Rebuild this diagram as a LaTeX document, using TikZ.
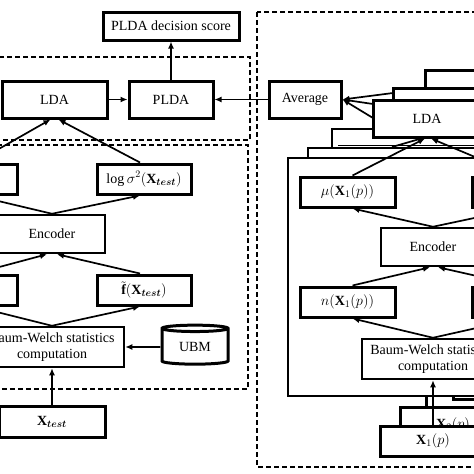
\documentclass[tikz,border=0pt]{standalone}
\usepackage{amsmath}
\usepackage{fontspec}
\setmainfont{Liberation Serif}
\usetikzlibrary{arrows.meta,shapes.geometric}
\begin{document}
\begin{tikzpicture}[x=1pt,y=-1pt,
  txt/.style={font=\fontsize{14}{16}\selectfont},
  bx/.style={draw, line width=3pt, fill=white, inner sep=0pt, align=center, txt},
  thinbx/.style={bx, line width=2.5pt},
  sz/.style 2 args={minimum width=#1pt, minimum height=#2pt},
  dsh/.style={line width=2.2pt, dash pattern=on 5pt off 3pt},
  pnl/.style={draw, line width=2.4pt, fill=white},
  arr/.style={-{Latex[length=7pt,width=6pt]}, line width=1.7pt},
  ln/.style={line width=1.7pt}]
\useasboundingbox (0,0) rectangle (474,474);
\clip (0,0) rectangle (474,474);
% dashed frames
\draw[dsh] (-10,57) rectangle (250,140);
\draw[dsh] (-10,145) rectangle (248,389);
\draw[dsh] (257,12) rectangle (600,467);
% stacked panels (back)
\draw[pnl] (332,129) rectangle (600,367);
\draw[pnl] (308,148) rectangle (600,386);
\draw[line width=1pt] (338,145.5) -- (600,145.5);
\coordinate (m2) at (392,147);
\coordinate (m2e) at (423,138);
\draw[ln] (m2) -- (m2e);
% stacked inputs (back)
\node[bx, fill=none, sz={106}{30}] (I4) at (506,384) {};
\node[bx, fill=none, sz={106}{30}] (I3) at (479,403) {};
% front panel
\draw[pnl] (288,158) rectangle (600,396);
% LDA stack
\node[bx, sz={108}{37}] (L3) at (479,88.5) {};
\node[bx, sz={108}{37}] (L2) at (447,106.5) {};
\node[bx, sz={108}{37}] (L1) at (427,118.5) {LDA};
% left side
\node[bx, sz={136}{28}] (score) at (171,26) {PLDA decision score};
\node[bx, sz={105}{37}] (LDAL) at (54.5,99.5) {LDA};
\node[bx, sz={84}{37}] (PLDA) at (171,99.5) {PLDA};
\node[bx, sz={72}{37}] (avg) at (305,99.5) {Average};
\node[bx, sz={84}{30}] (muL) at (-25,179) {};
\node[bx, sz={94}{30}] (logsig) at (144,179) {$\log\sigma^2(\mathbf{X}_{\boldsymbol{test}})$};
\node[thinbx, sz={106}{38}] (EncL) at (52,234) {Encoder};
\node[bx, sz={84}{30}] (fL) at (-25,290) {};
\node[bx, sz={94}{30}] (ftil) at (144,290) {$\tilde{\mathbf{f}}(\mathbf{X}_{\boldsymbol{test}})$};
\node[thinbx, sz={144}{40}] (BWL) at (52,347) {Baum-Welch statistics\\computation};
\node[draw, cylinder, shape border rotate=90, aspect=0.2, minimum width=66pt, minimum height=39pt, line width=3pt, fill=white, txt, inner sep=0pt] (ubm) at (195,347) {UBM};
\node[bx, sz={106}{31}] (Xt) at (52,421.5) {$\mathbf{X}_{\boldsymbol{test}}$};
% right front panel content
\node[bx, sz={95}{30}] (mu1) at (347.5,192) {$\mu(\mathbf{X}_1(p))$};
\node[bx, sz={94}{30}] (sigR) at (519,192) {};
\node[thinbx, sz={104}{38}] (Enc1) at (433,247) {Encoder};
\node[bx, sz={95}{30}] (n1) at (347.5,302) {$n(\mathbf{X}_1(p))$};
\node[bx, sz={94}{30}] (fR) at (519,302) {};
\node[thinbx, sz={142}{40}] (BW1) at (433,359) {Baum-Welch statistics\\computation};
\node[bx, sz={106}{36}] (I2) at (453,425) {$\mathbf{X}_2(p)$};
\node[bx, sz={106}{30}] (I1) at (433,441) {$\mathbf{X}_1(p)$};
% connectors left
\draw[arr] (LDAL.east) -- (PLDA.west);
\draw[arr] (PLDA.north) -- (score.south);
\draw[arr] (avg.west) -- (PLDA.east);
\draw[arr] (Xt.north) -- (BWL.south);
\draw[arr] (ubm.west) -- (BWL.east);
\draw[arr] (BWL.north) -- ([xshift=-4pt]ftil.south);
\draw[arr] (BWL.north) -- (fL.south);
\draw[arr] (fL.north) -- ([xshift=-5pt]EncL.south);
\draw[arr] ([xshift=-4pt]ftil.north) -- ([xshift=5pt]EncL.south);
\draw[arr] (EncL.north) -- ([xshift=-4pt]logsig.south);
\draw[arr] (EncL.north) -- (muL.south);
\draw[arr] (muL.north) -- ([xshift=-4pt]LDAL.south);
\draw[arr] ([xshift=-4pt]logsig.north) -- ([xshift=4pt]LDAL.south);
% connectors right
\draw[arr] (I1.north) -- (BW1.south);
\draw[arr] (BW1.north) -- ([xshift=5pt]n1.south);
\draw[arr] (BW1.north) -- (fR.south);
\draw[arr] ([xshift=5pt]n1.north) -- ([xshift=-3pt]Enc1.south);
\draw[arr] (fR.north) -- ([xshift=5pt]Enc1.south);
\draw[arr] (Enc1.north) -- ([xshift=5pt]mu1.south);
\draw[arr] (Enc1.north) -- (sigR.south);
\draw[arr] ([xshift=5pt]mu1.north) -- ([xshift=-2pt]L1.south);
\draw[arr] (sigR.north) -- ([xshift=4pt]L1.south);
\coordinate (l2a) at (393,93);
\coordinate (l1a) at (373,104);
\coordinate (l1b) at (373,118);
\draw[arr] (l2a) -- (avg.east);
\draw[arr] (l1a) -- (avg.east);
\draw[arr] (l1b) -- (avg.east);
\end{tikzpicture}
\end{document}
